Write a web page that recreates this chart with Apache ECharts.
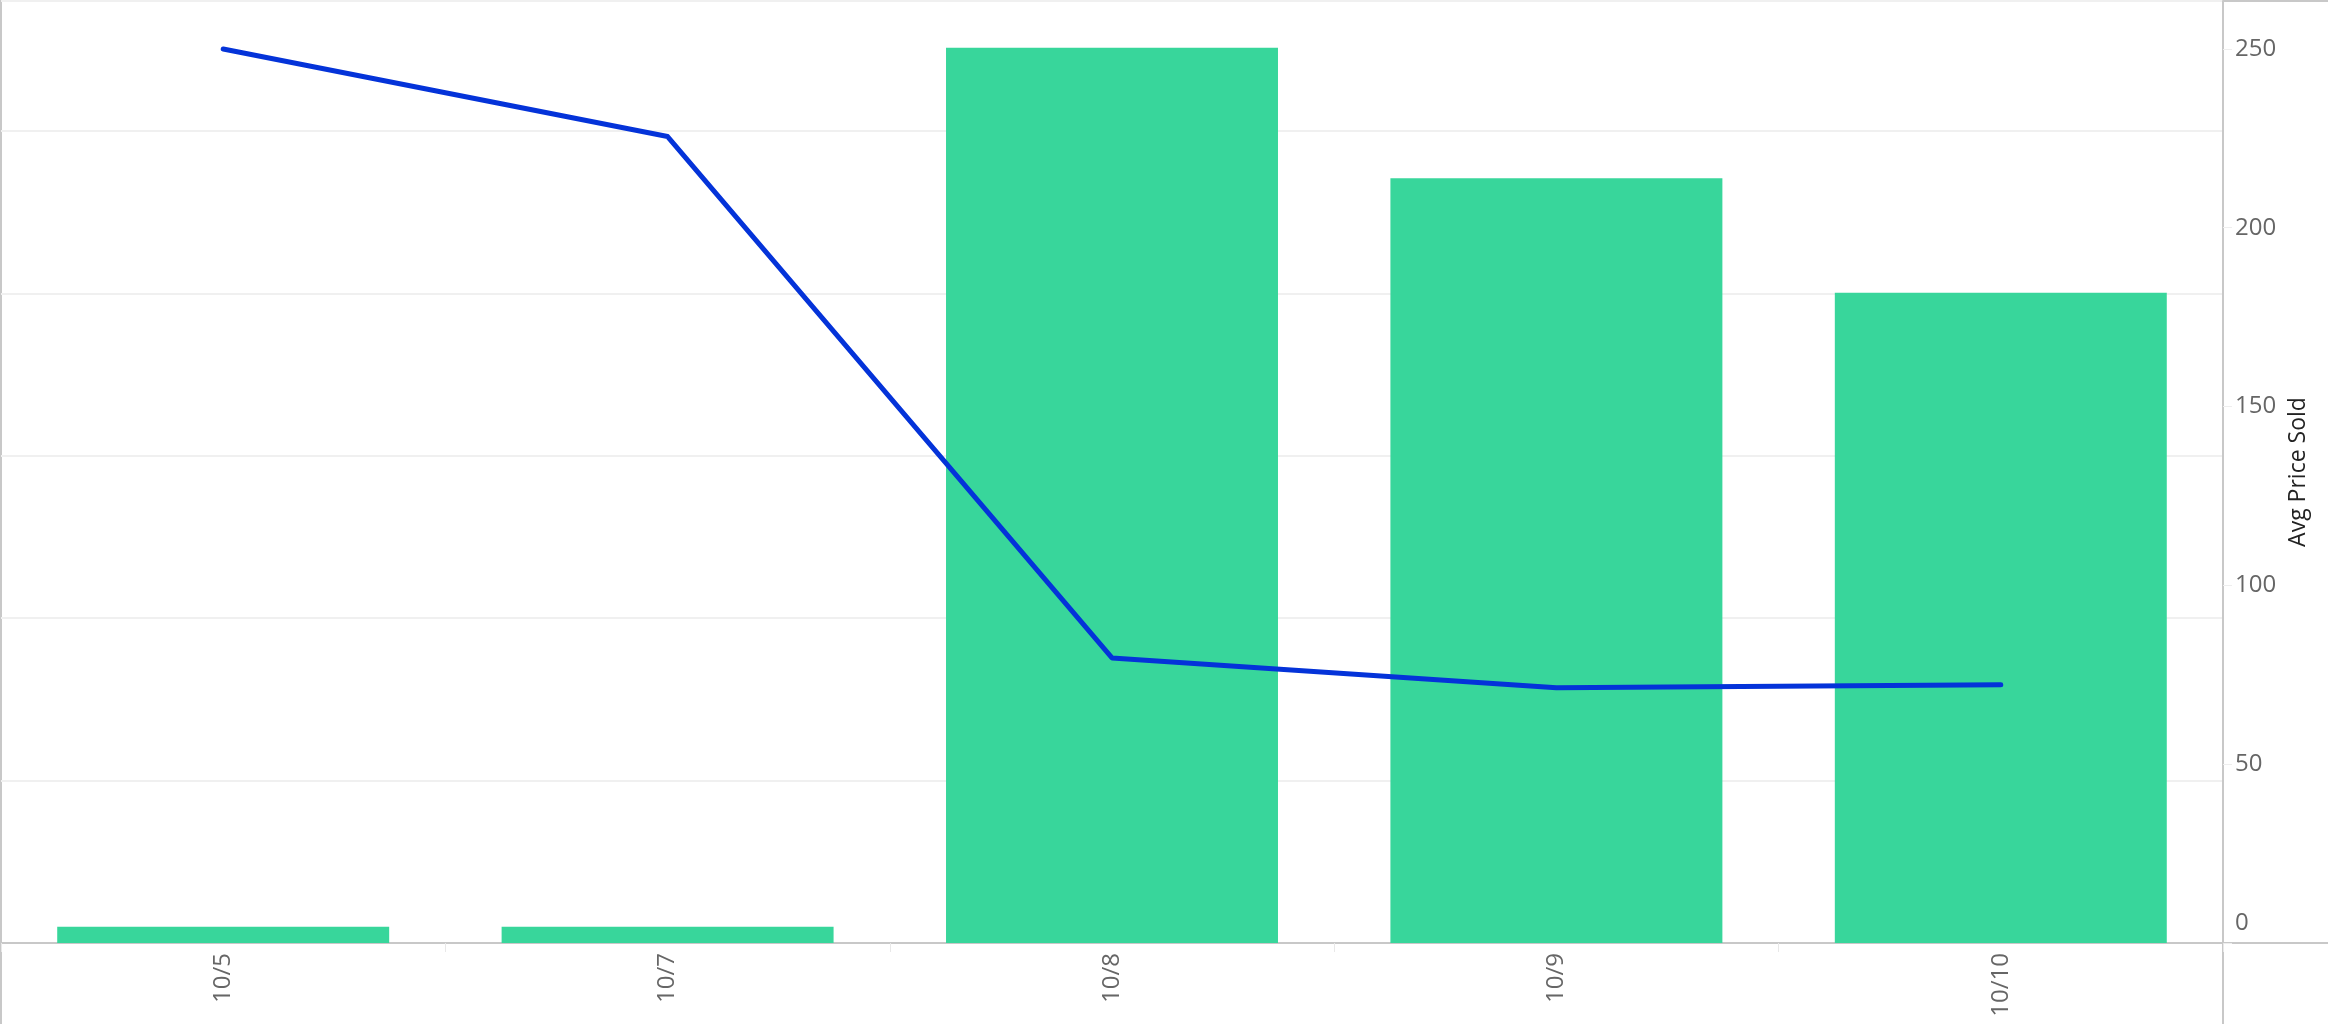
<!DOCTYPE html>
<html>
<head>
<meta charset="utf-8">
<style>
html,body{margin:0;padding:0;background:#fff;}
#chart{width:2328px;height:1024px;}
</style>
<script src="https://cdn.jsdelivr.net/npm/echarts@6/dist/echarts.min.js"></script>
</head>
<body>
<div id="chart"></div>
<script>
// ---- data ----
var categories = ['10/5', '10/7', '10/8', '10/9', '10/10'];
var barValues = [5, 5, 275.6, 235.4, 200.2];          // hidden left axis (bars)
var avgPriceSold = [250, 225.5, 79.7, 71.4, 72.2];    // right axis (line)
var rightTicks = [0, 50, 100, 150, 200, 250];

// ---- layout ----
var W = 2328, H = 1024;
var gridLeft = 1, gridRight = 105, gridTop = 1, gridBottom = 81;
var axisY = H - gridBottom, axisX = W - gridRight;
var lineGray = '#c8c8c8';

var chart = echarts.init(document.getElementById('chart'));
chart.setOption({
  animation: false,
  backgroundColor: '#fff',
  grid: {left: gridLeft, right: gridRight, top: gridTop, bottom: gridBottom, containLabel: false},
  xAxis: {
    type: 'category',
    data: categories,
    axisLine: {show: true, lineStyle: {color: lineGray, width: 2}},
    axisTick: {show: true, length: 9, lineStyle: {color: '#e8e8e8', width: 1}},
    axisLabel: {rotate: 90, margin: 10, fontSize: 24, color: '#666', fontFamily: 'Open Sans'}
  },
  yAxis: [
    {
      type: 'value', position: 'left', min: 0, max: 290, interval: 50,
      axisLine: {show: false}, axisTick: {show: false}, axisLabel: {show: false},
      splitLine: {show: true, lineStyle: {color: '#f0f0f0', width: 2}}
    },
    {
      type: 'value', position: 'right', min: 0, max: 263.4, interval: 50,
      name: 'Avg Price Sold', nameLocation: 'middle', nameRotate: 90, nameGap: 64,
      nameTextStyle: {fontSize: 23, color: '#222', fontFamily: 'Open Sans'},
      axisLine: {show: true, lineStyle: {color: lineGray, width: 2}},
      axisTick: {show: true, length: 9, lineStyle: {color: '#eeeeee', width: 1}},
      splitLine: {show: false},
      axisLabel: {
        showMaxLabel: false, margin: 12, fontSize: 24, color: '#666', fontFamily: 'Open Sans',
        formatter: function (v) { return v === 0 ? '{z|0}' : String(v); },
        rich: {z: {fontSize: 24, color: '#666', fontFamily: 'Open Sans', padding: [0, 0, 40, 0]}}
      }
    }
  ],
  series: [
    {
      type: 'bar', yAxisIndex: 0, data: barValues, barWidth: '74.7%',
      itemStyle: {color: '#38d69b'}
    },
    {
      type: 'line', yAxisIndex: 1, data: avgPriceSold, showSymbol: false, symbol: 'none',
      lineStyle: {color: '#0433d9', width: 5, cap: 'round', join: 'round'}
    }
  ],
  graphic: [
    {type: 'line', silent: true, shape: {x1: 0, y1: 1, x2: W, y2: 1}, style: {stroke: lineGray, lineWidth: 2}},
    {type: 'line', silent: true, shape: {x1: 1, y1: 0, x2: 1, y2: H}, style: {stroke: lineGray, lineWidth: 2}},
    {type: 'line', silent: true, shape: {x1: axisX, y1: axisY, x2: W, y2: axisY}, style: {stroke: lineGray, lineWidth: 2}},
    {type: 'line', silent: true, shape: {x1: axisX, y1: axisY, x2: axisX, y2: H}, style: {stroke: lineGray, lineWidth: 2}}
  ]
});
</script>
</body>
</html>
